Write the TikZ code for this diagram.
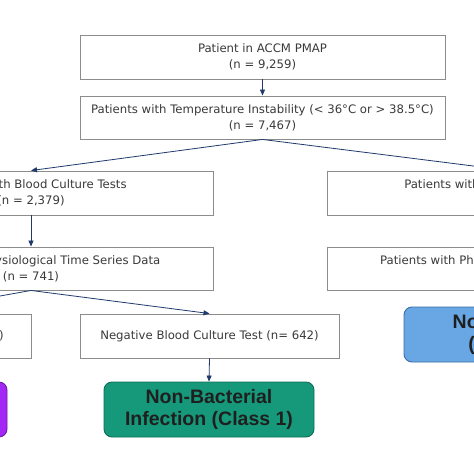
\documentclass[tikz,border=0pt]{standalone}
\usepackage{fontspec}
\setmainfont{DejaVu Sans}
\newfontfamily\boldfam{Liberation Sans}
\usetikzlibrary{arrows.meta}
\definecolor{boxline}{HTML}{8C8C8C}
\definecolor{boxtext}{HTML}{3A3A3A}
\definecolor{arrowc}{HTML}{1F3A6B}
\definecolor{greenfill}{HTML}{16997A}
\definecolor{greenline}{HTML}{0E6E57}
\definecolor{bluefill}{HTML}{68A6E4}
\definecolor{blueline}{HTML}{3A6EA8}
\definecolor{purplefill}{HTML}{A328F5}
\definecolor{purpleline}{HTML}{6E1AA8}
\tikzset{
  wbox/.style={draw=boxline, line width=0.9pt, fill=white, text=boxtext,
    minimum width=365pt, minimum height=44pt, align=center, inner sep=0pt,
    font=\fontsize{11.7}{16}\selectfont},
  nbox/.style={wbox, minimum width=259pt},
  cbox/.style={rounded corners=8pt, line width=0.9pt, minimum width=210pt,
    minimum height=55pt, align=center, inner sep=0pt, text=black!88,
    font=\boldfam\bfseries\fontsize{19.5}{22}\selectfont},
  conn/.style={draw=arrowc, line width=0.8pt,
    -{Triangle[length=6pt,width=5pt]}}
}
\begin{document}
\begin{tikzpicture}[x=1pt,y=-1pt]
\useasboundingbox (0,0) rectangle (474,474);
\fill[white] (0,0) rectangle (474,474);
\clip (0,0) rectangle (474,474);
\node[wbox] (b1) at (262.5,57) {Patient in ACCM PMAP\\(n = 9,259)};
\node[wbox, minimum height=43pt] (b2) at (262.5,117.5) {Patients with Temperature Instability (< 36°C or > 38.5°C)\\(n = 7,467)};
\node[wbox] (b3) at (31,193) {Patients with Blood Culture Tests\\(n = 2,379)};
\node[wbox] (b3r) at (509.5,193) {Patients without Blood Culture Tests\\(n = 5,088)};
\node[wbox, minimum height=43pt] (b4) at (31,268.5) {Patients with Physiological Time Series Data\\(n = 741)};
\node[wbox, minimum height=43pt] (b4r) at (509.5,268.5) {Patients with Physiological Time Series Data\\(n = 4,101)};
\node[nbox] (b5) at (-98,336) {Positive Blood Culture Test (n= 99)};
\node[nbox] (b6) at (209.5,336) {Negative Blood Culture Test (n= 642)};
\node[cbox, draw=purpleline, fill=purplefill] (c2) at (-98,409.5) {Bacterial\\Infection (Class 2)};
\node[cbox, draw=greenline, fill=greenfill] (c1) at (209,409.5) {Non-Bacterial\\Infection (Class 1)};
\node[cbox, draw=blueline, fill=bluefill] (c0) at (509,334.5) {No Infection\\(Class 0)};
\draw[conn] (b1.south) -- (b2.north);
\draw[conn] (b2.south) -- (b3.north);
\draw[conn] (b2.south) -- (b3r.north);
\draw[conn] (b3.south) -- (b4.north);
\draw[conn] (b3r.south) -- (b4r.north);
\draw[conn] (b4.south) -- (b5.north);
\draw[conn] (b4.south) -- (b6.north);
\draw[conn] (b4r.south) -- (c0.north);
\draw[conn] (b5.south) -- (c2.north);
\draw[conn] (b6.south) -- (c1.north);
\end{tikzpicture}
\end{document}
